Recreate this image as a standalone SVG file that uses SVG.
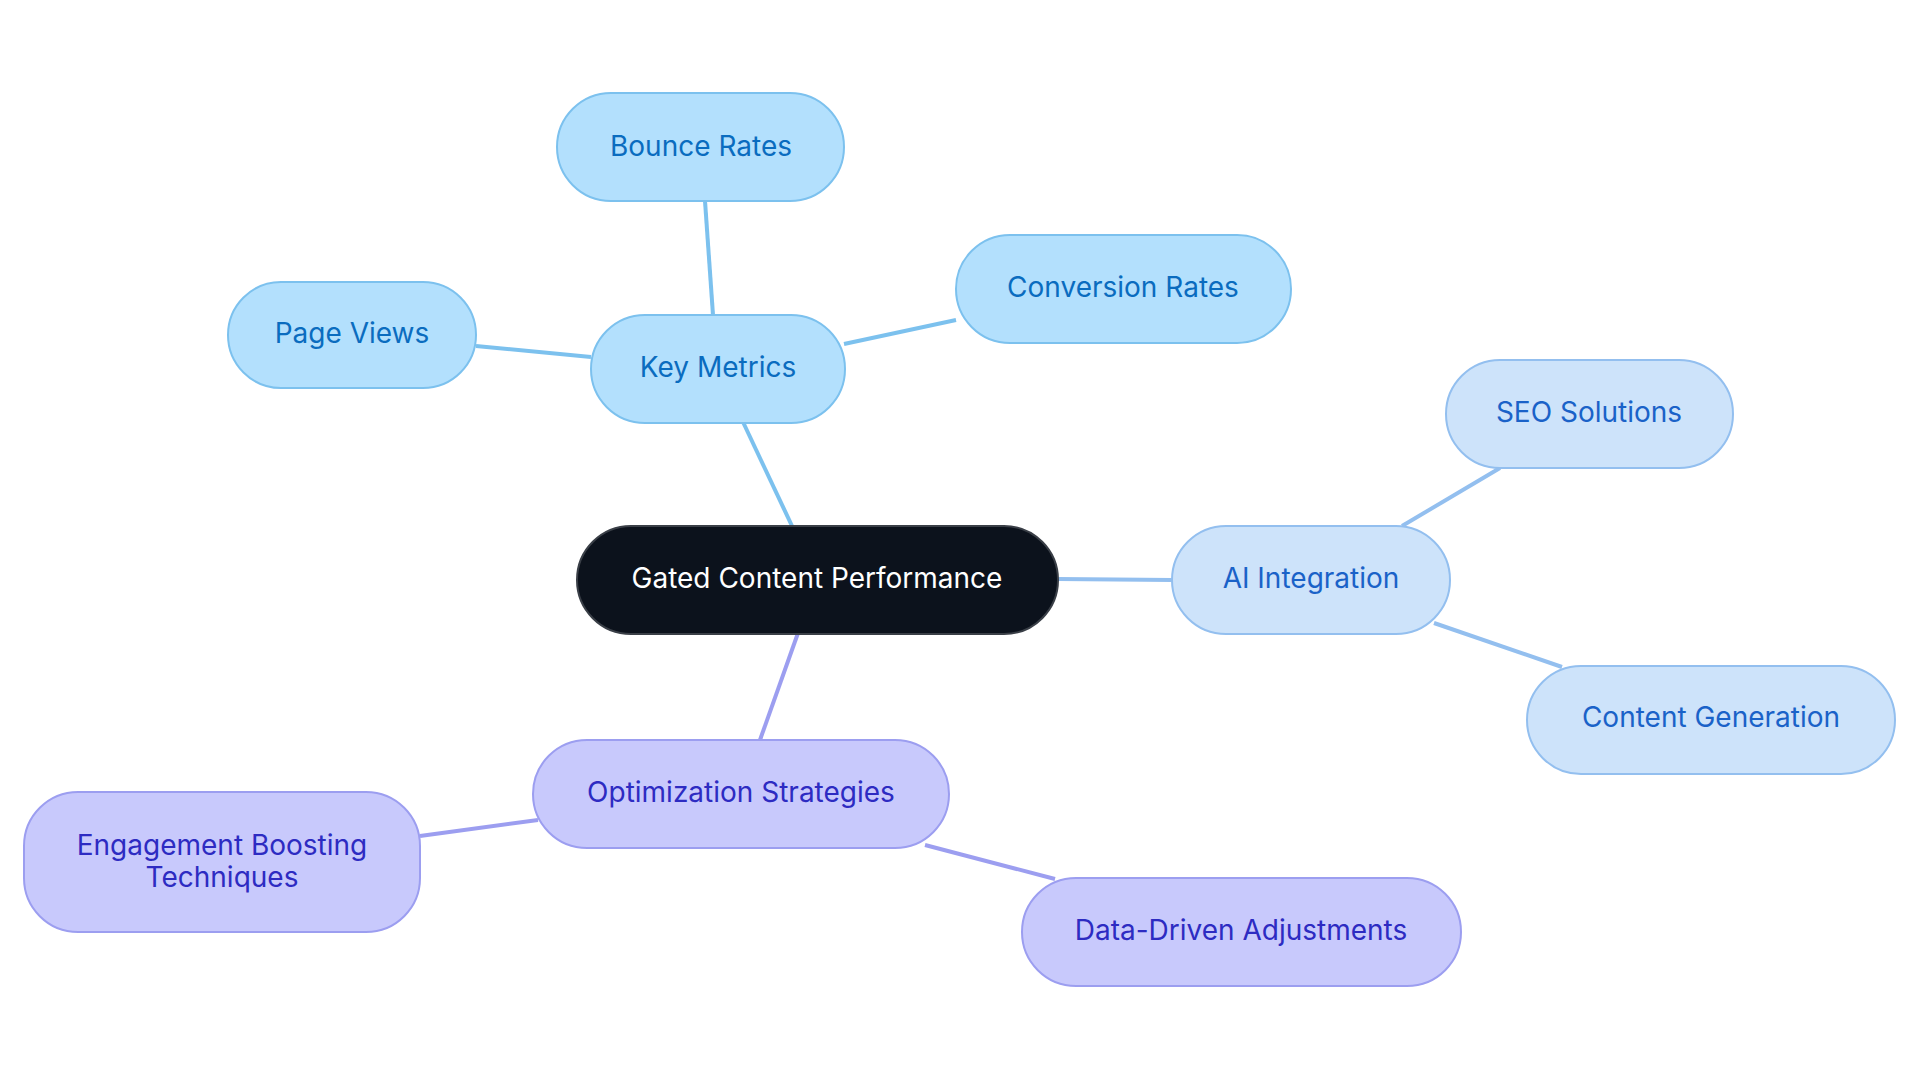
<svg xmlns="http://www.w3.org/2000/svg" width="1920" height="1083" viewBox="0 0 1920 1083">
<style>
text{font-family:Inter,"Noto Sans",sans-serif;font-size:28px;text-anchor:middle;dominant-baseline:central}
.km rect{fill:#b3e0fd;stroke:#7cc1ee;stroke-width:2}
.km text{fill:#0a6cbf}
.ai rect{fill:#cde3fa;stroke:#93bfef;stroke-width:2}
.ai text{fill:#1a62c8}
.op rect{fill:#c8c9fc;stroke:#9c9ef0;stroke-width:2}
.op text{fill:#2d2bc2}
.c line{stroke-width:4;fill:none}
.lkm{stroke:#7cc1ee}.lai{stroke:#93bfef}.lop{stroke:#9c9ef0}
</style>
<rect width="1920" height="1083" fill="#fff"/>
<g class="c" id="connectors">
<line class="lkm" x1="792" y1="526" x2="743" y2="422"/>
<line class="lkm" x1="705" y1="201" x2="713" y2="315"/>
<line class="lkm" x1="476" y1="346" x2="591" y2="357"/>
<line class="lkm" x1="844" y1="344" x2="956" y2="320"/>
<line class="lai" x1="1058" y1="579" x2="1172" y2="580"/>
<line class="lai" x1="1402" y1="526" x2="1500" y2="468"/>
<line class="lai" x1="1434" y1="623" x2="1562" y2="667"/>
<line class="lop" x1="798" y1="633" x2="760" y2="740"/>
<line class="lop" x1="538" y1="820" x2="420" y2="836"/>
<line class="lop" x1="925" y1="845" x2="1055" y2="879"/>
</g>
<g id="center">
<rect x="577" y="526" width="481" height="108" rx="54" fill="#0c121c" stroke="#3a3f47" stroke-width="2"/>
<text x="817" y="578" fill="#ffffff">Gated Content Performance</text>
</g>
<g id="key-metrics" class="km"><rect x="591" y="315" width="254" height="108" rx="54"/><text x="718" y="367">Key Metrics</text></g>
<g id="bounce-rates" class="km"><rect x="557" y="93" width="287" height="108" rx="54"/><text x="701" y="146">Bounce Rates</text></g>
<g id="page-views" class="km"><rect x="228" y="282" width="248" height="106" rx="53"/><text x="352" y="333">Page Views</text></g>
<g id="conversion-rates" class="km"><rect x="956" y="235" width="335" height="108" rx="54"/><text x="1123" y="287">Conversion Rates</text></g>
<g id="ai-integration" class="ai"><rect x="1172" y="526" width="278" height="108" rx="54"/><text x="1311" y="578">AI Integration</text></g>
<g id="seo-solutions" class="ai"><rect x="1446" y="360" width="287" height="108" rx="54"/><text x="1589" y="412">SEO Solutions</text></g>
<g id="content-generation" class="ai"><rect x="1527" y="666" width="368" height="108" rx="54"/><text x="1711" y="717">Content Generation</text></g>
<g id="optimization-strategies" class="op"><rect x="533" y="740" width="416" height="108" rx="54"/><text x="741" y="792">Optimization Strategies</text></g>
<g id="engagement-boosting" class="op"><rect x="24" y="792" width="396" height="140" rx="54"/><text x="222" y="845">Engagement Boosting</text><text x="222" y="877">Techniques</text></g>
<g id="data-driven" class="op"><rect x="1022" y="878" width="439" height="108" rx="54"/><text x="1241" y="930">Data-Driven Adjustments</text></g>
</svg>
